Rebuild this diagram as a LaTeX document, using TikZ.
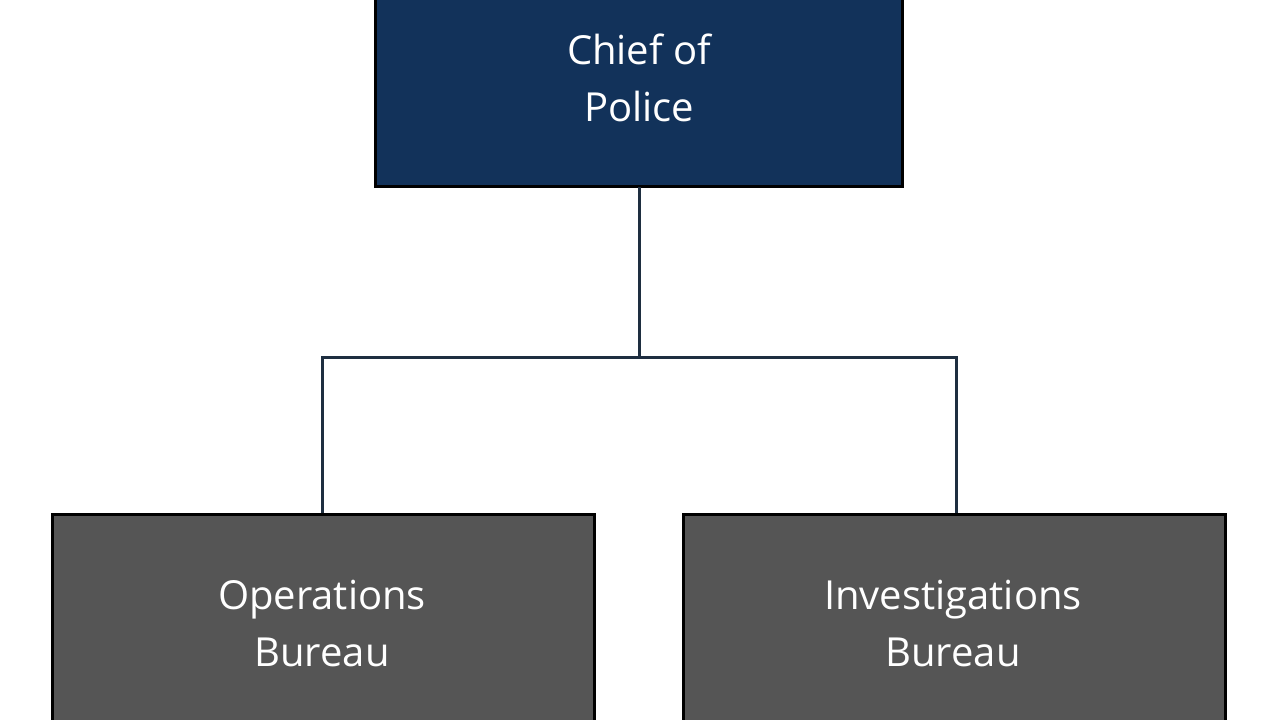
\documentclass[tikz,border=0pt]{standalone}
\usepackage{fontspec}
\setmainfont{Open Sans}
\definecolor{navy}{HTML}{12325A}
\definecolor{bgrey}{HTML}{555555}
\definecolor{lnc}{HTML}{1E2E40}
\begin{document}
\begin{tikzpicture}[x=1pt,y=-1pt]
\tikzset{box/.style={draw=black,line width=3pt,text=white,align=center,font=\fontsize{40}{57}\selectfont},
conn/.style={draw=lnc,line width=3pt}}
\useasboundingbox (0,0) rectangle (1280,720);
\begin{scope}
\clip (0,0) rectangle (1280,720);
\filldraw[box,fill=navy] (375,-10) rectangle (902,186);
\node[text=white,align=center,font=\fontsize{40}{57}\selectfont] (chief) at (639,78) {Chief of\\Police};
\filldraw[box,fill=bgrey] (52,514) rectangle (594,740);
\node[text=white,align=center,font=\fontsize{40}{57}\selectfont] (ops) at (322,624) {Operations\\Bureau};
\filldraw[box,fill=bgrey] (683,514) rectangle (1225,740);
\node[text=white,align=center,font=\fontsize{40}{57}\selectfont] (inv) at (953,624) {Investigations\\Bureau};
\coordinate (ctop) at (639,187);
\coordinate (cmid) at (639,357);
\coordinate (lb) at (322,513);
\coordinate (rb) at (956,513);
\draw[conn] (ctop) -- (cmid);
\draw[conn] (lb) |- (cmid) -| (rb);
\end{scope}
\end{tikzpicture}
\end{document}
